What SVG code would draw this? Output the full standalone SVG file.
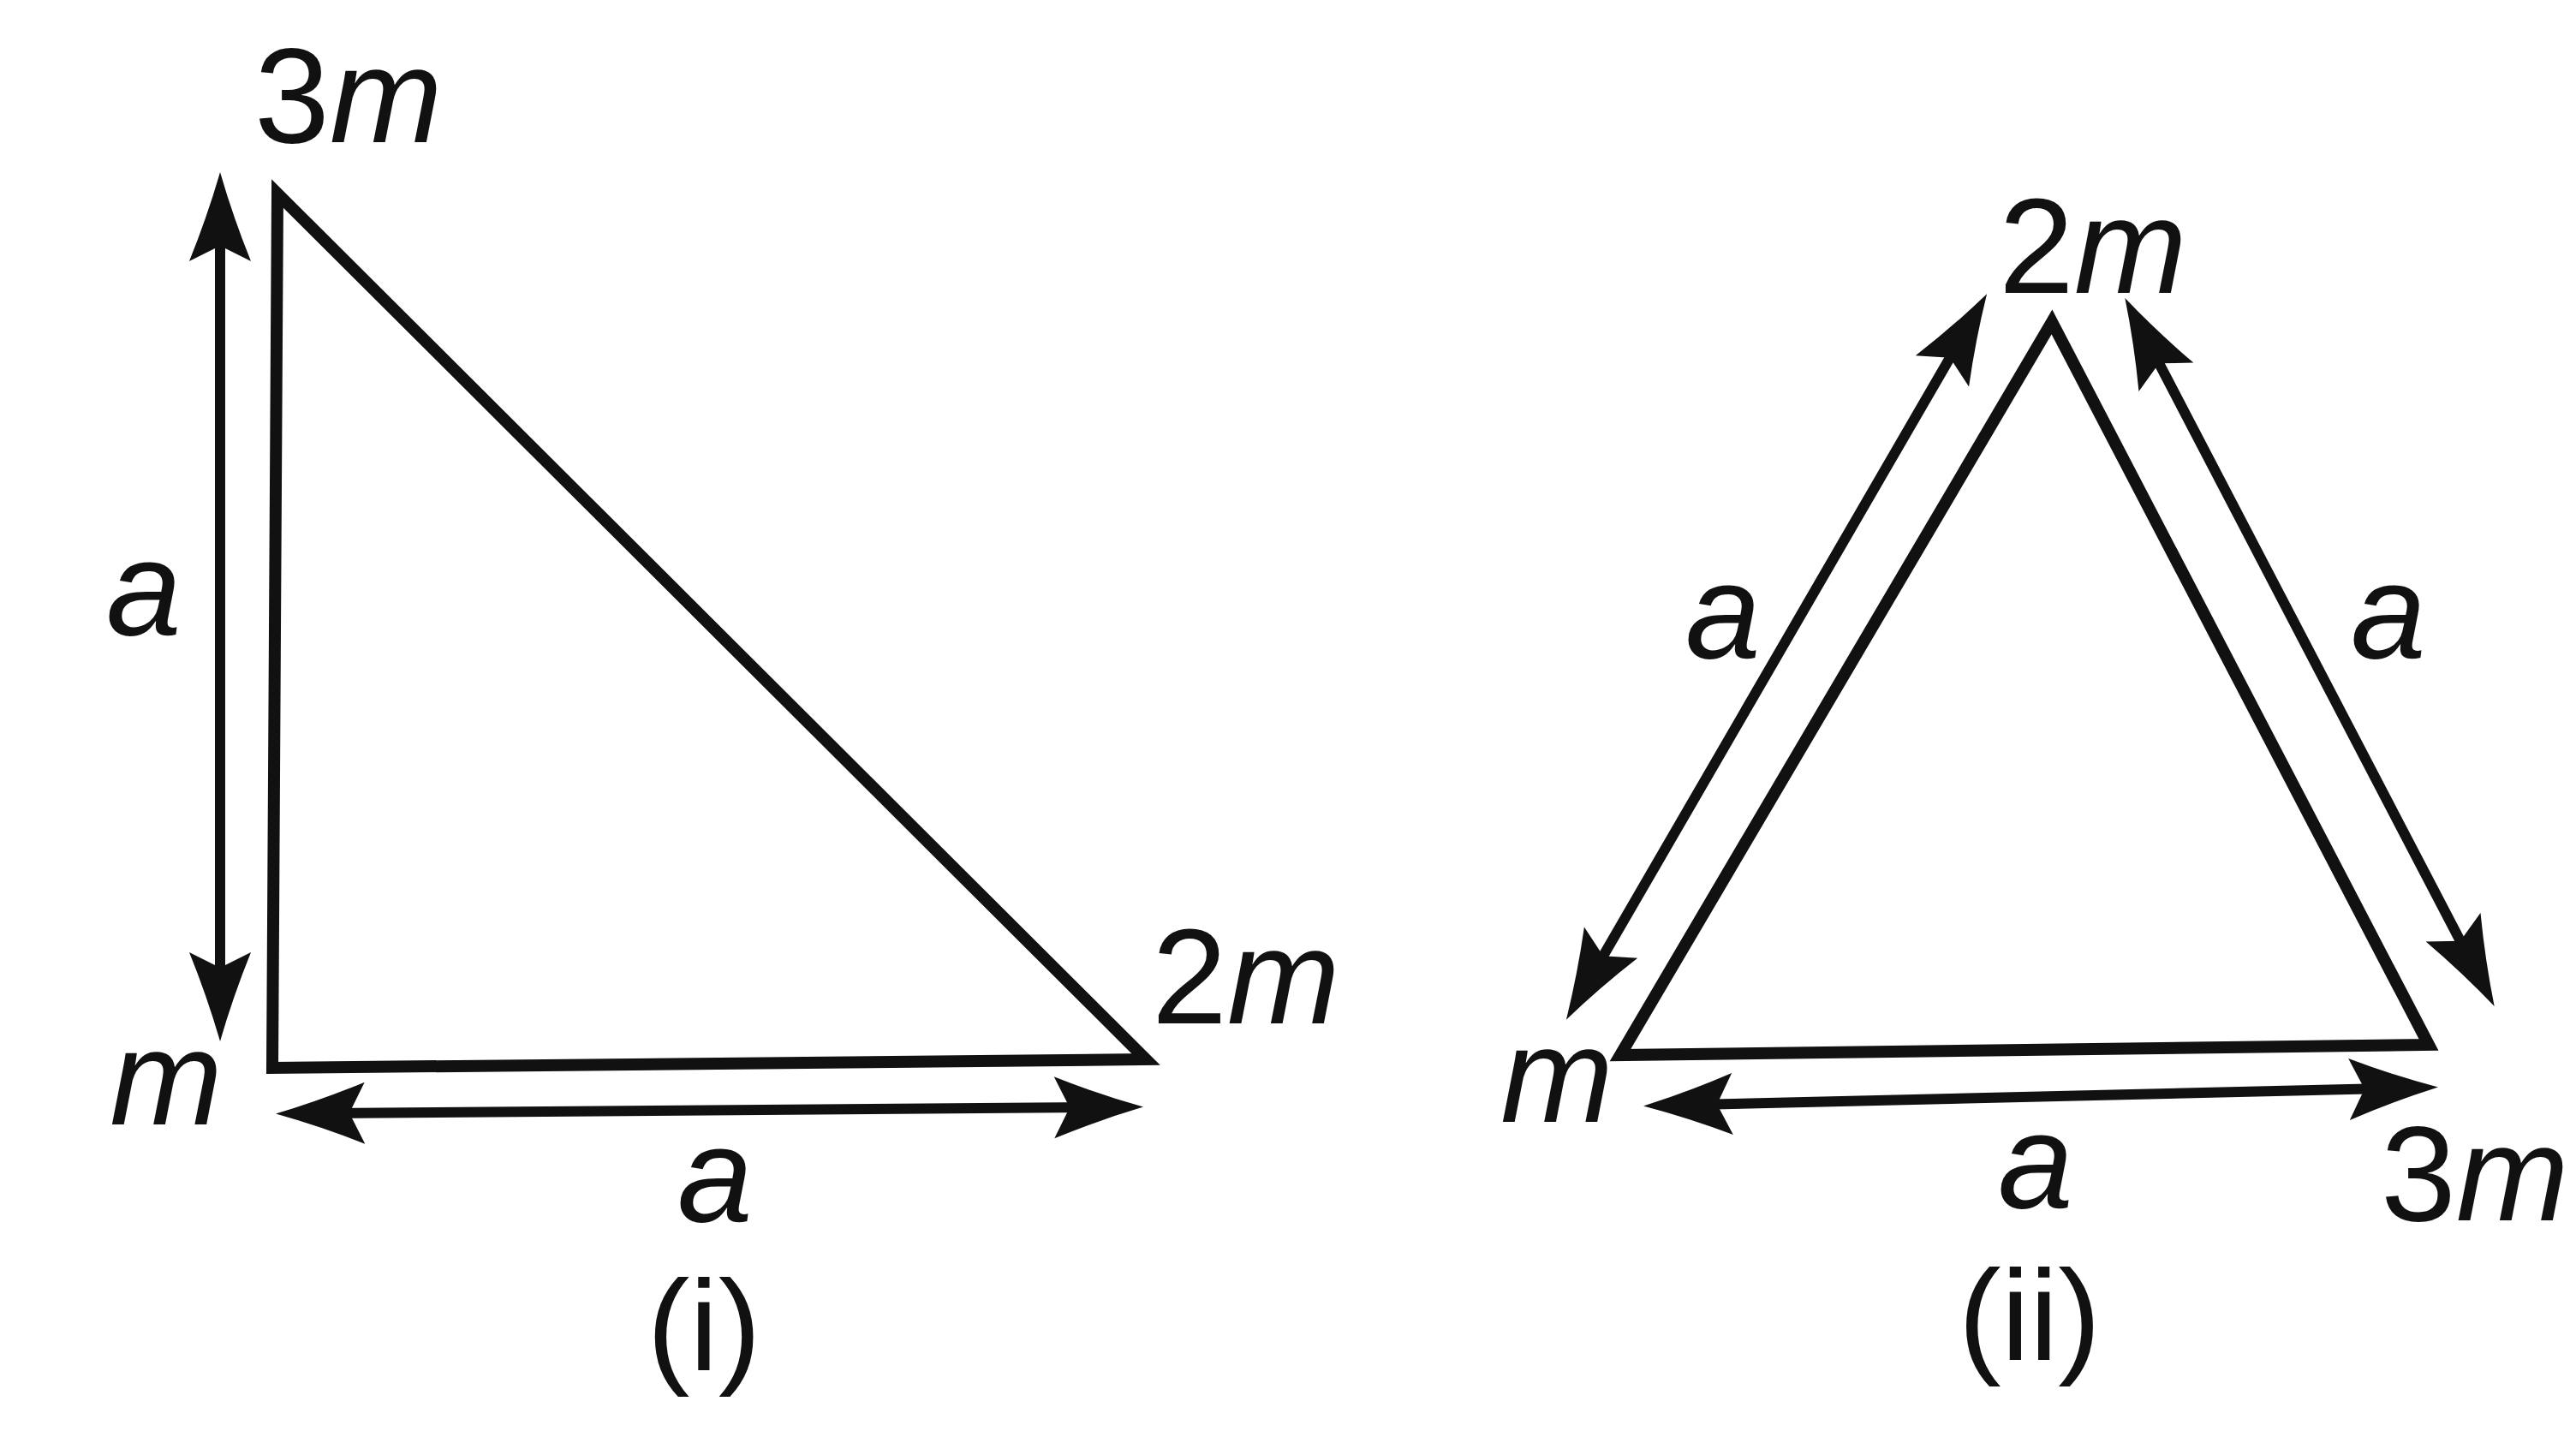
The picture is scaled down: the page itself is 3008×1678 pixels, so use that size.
<svg xmlns="http://www.w3.org/2000/svg" width="3008" height="1678" viewBox="0 0 3008 1678">
<style>
.tri{fill:none;stroke:#111;stroke-width:14;stroke-linejoin:miter}
.arr{fill:none;stroke:#111;stroke-width:12;marker-start:url(#ah);marker-end:url(#ah)}
text{font-family:"Liberation Sans",Arial,sans-serif;fill:#111;font-size:158px}
.it{font-style:italic}
.cap{font-size:150px}
</style>
<defs>
<marker id="ah" markerUnits="userSpaceOnUse" orient="auto-start-reverse" refX="0" refY="0" markerWidth="200" markerHeight="200" overflow="visible">
<path d="M62,0 Q10,-15 -42,-36 L-24,0 L-42,36 Q10,15 62,0 Z" fill="#111"/>
</marker>
</defs>
<rect width="3008" height="1678" fill="#fff"/>
<g id="diagram-i">
<g id="tri-i"><polygon class="tri" points="324,226 318,1247 1338,1237"/></g>
<g id="label-3m-i"><text x="297" y="166">3<tspan class="it">m</tspan></text></g>
<g id="label-m-i"><text class="it" x="194" y="1313" text-anchor="middle">m</text></g>
<g id="label-2m-i"><text x="1345" y="1195">2<tspan class="it">m</tspan></text></g>
<g id="label-a-left-i"><text class="it" x="168" y="741" text-anchor="middle">a</text></g>
<g id="label-a-bottom-i"><text class="it" x="835" y="1426" text-anchor="middle">a</text></g>
<g id="caption-i"><text class="cap" x="822" y="1600" text-anchor="middle">(i)</text></g>
</g>
<g id="diagram-ii">
<g id="tri-ii"><polygon class="tri" points="2396,376 1892,1232 2836,1220"/></g>
<g id="label-2m-ii"><text x="2334" y="342">2<tspan class="it">m</tspan></text></g>
<g id="label-m-ii"><text class="it" x="1818" y="1310" text-anchor="middle">m</text></g>
<g id="label-3m-ii"><text x="2780" y="1425">3<tspan class="it">m</tspan></text></g>
<g id="label-a-left-ii"><text class="it" x="2012" y="768" text-anchor="middle">a</text></g>
<g id="label-a-right-ii"><text class="it" x="2789" y="768" text-anchor="middle">a</text></g>
<g id="label-a-bottom-ii"><text class="it" x="2377" y="1410" text-anchor="middle">a</text></g>
<g id="caption-ii"><text class="cap" x="2370" y="1588" text-anchor="middle">(ii)</text></g>
</g>
<g id="connectors">
<line class="arr" x1="257" y1="263" x2="257" y2="1154"/>
<line class="arr" x1="384" y1="1300" x2="1273" y2="1293"/>
<line class="arr" x1="1860" y1="1137" x2="2289" y2="397"/>
<line class="arr" x1="2510" y1="403" x2="2884" y2="1120"/>
<line class="arr" x1="1981" y1="1290" x2="2785" y2="1271"/>
</g>
</svg>
